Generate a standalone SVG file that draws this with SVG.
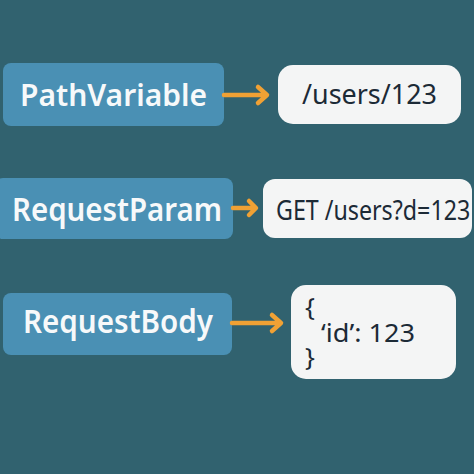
<svg xmlns="http://www.w3.org/2000/svg" width="474" height="474" viewBox="0 0 474 474">
<defs>
<style>
.lbl{fill:#4a90b4}
.val{fill:#f4f5f5}
.lt{font-family:"Noto Sans","Open Sans",sans-serif;font-weight:600;fill:#f7f9fa}
.vt{font-family:"Noto Sans","Open Sans",sans-serif;font-weight:400;fill:#1c2a36}
.arr{stroke:#f0a134;stroke-width:4.5;fill:none;stroke-linecap:round;stroke-linejoin:round}
</style>
</defs>
<rect width="474" height="474" fill="#31626f"/>
<g id="pathvariable">
<rect class="lbl" x="3" y="63" width="221" height="63" rx="8"/>
<text class="lt" x="20" y="106" font-size="31" textLength="187" lengthAdjust="spacingAndGlyphs">PathVariable</text>
</g>
<g id="users123">
<rect class="val" x="278" y="65" width="183" height="59" rx="15"/>
<text class="vt" x="302" y="104" font-size="28" textLength="135" lengthAdjust="spacingAndGlyphs">/users/123</text>
</g>
<g id="requestparam">
<rect class="lbl" x="-5" y="178" width="238" height="61" rx="8"/>
<text class="lt" x="12" y="221" font-size="32" textLength="210" lengthAdjust="spacingAndGlyphs">RequestParam</text>
</g>
<g id="getusers">
<rect class="val" x="263" y="179" width="209" height="59" rx="12"/>
<text class="vt" transform="translate(276 220) scale(0.83 1)" x="0" y="0" font-size="28">GET /users?d=123</text>
</g>
<g id="requestbody">
<rect class="lbl" x="3" y="293" width="229" height="62" rx="8"/>
<text class="lt" x="23" y="333" font-size="32" textLength="190" lengthAdjust="spacingAndGlyphs">RequestBody</text>
</g>
<g id="json">
<rect class="val" x="291" y="285" width="165" height="94" rx="15"/>
<text class="vt" x="305" y="316" font-size="26">{</text>
<text class="vt" x="321" y="342" font-size="26" textLength="94" lengthAdjust="spacingAndGlyphs">‘id’: 123</text>
<text class="vt" x="305" y="366" font-size="26">}</text>
</g>
<g id="connectors">
<path class="arr" d="M224 95 H266 M258 87 L267 95 L258 103"/>
<path class="arr" d="M233 208 H255 M249 201 L256 208 L249 215"/>
<path class="arr" d="M232 323 H280 M272 315 L281 323 L272 331"/>
</g>
</svg>
